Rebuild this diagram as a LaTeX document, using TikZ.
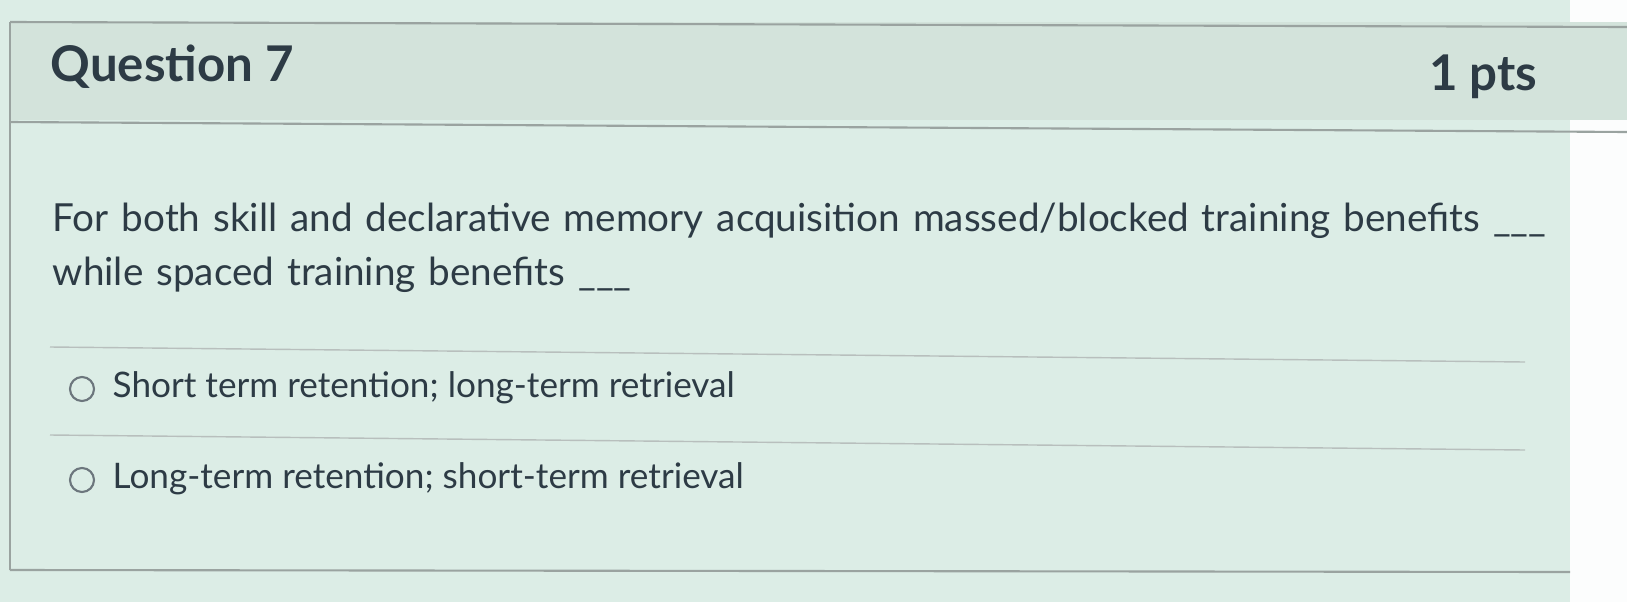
\documentclass[tikz,border=0pt]{standalone}
\usepackage{fontspec}
\setmainfont{Lato}
\definecolor{bg}{HTML}{DCEDE6}
\definecolor{hdr}{HTML}{D3E3DB}
\definecolor{frame}{HTML}{9AA3A0}
\definecolor{ink}{HTML}{2D3B45}
\tikzset{
  txt/.style={anchor=west,inner sep=0pt,text=ink,font=\fontsize{10}{13}\selectfont},
  radio/.style={circle,draw=ink!70,line width=0.6pt,minimum size=0.24cm,inner sep=0pt},
  sep/.style={draw=frame!70,line width=0.4pt}
}
\begin{document}
\begin{tikzpicture}[x=0.01cm,y=0.01cm]
\useasboundingbox (0,0) rectangle (1627,602);
\fill[bg] (0,0) rectangle (1627,602);
\fill[white!92!bg] (1570,0) rectangle (1627,602);
\fill[hdr] (10,482) rectangle (1627,580);
\draw[frame,line width=0.6pt] (10,580) -- (1627,575);
\draw[frame,line width=0.6pt] (10,480) -- (1627,470);
\draw[frame,line width=0.6pt] (10,580) -- (10,32);
\draw[frame,line width=0.6pt] (10,32) -- (1570,30);
\draw[sep] (50,255) -- (1525,240);
\draw[sep] (50,167) -- (1525,152);
\node[txt,font=\fontsize{14}{16}\selectfont\bfseries] (q) at (50,535) {Question 7};
\node[txt,anchor=east,font=\fontsize{14}{16}\selectfont\bfseries] (p) at (1538,525) {1 pts};
\node[txt,text width=15.2cm,anchor=north west,align=left,font=\fontsize{11}{15.5}\selectfont] (body) at (52,400)
 {\hyphenpenalty=10000\relax For both skill and declarative memory acquisition massed/blocked training benefits \_\_\_ while spaced training benefits \_\_\_};
\node[radio] (r1) at (82,213) {};
\node[txt] (a1) at (112,214) {Short term retention; long-term retrieval};
\node[radio] (r2) at (82,122) {};
\node[txt] (a2) at (112,123) {Long-term retention; short-term retrieval};
\end{tikzpicture}
\end{document}
